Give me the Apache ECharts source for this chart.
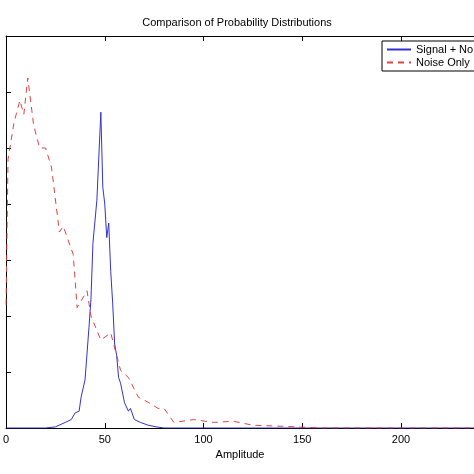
<!DOCTYPE html><html><head><meta charset="utf-8"><script src="https://cdn.jsdelivr.net/npm/echarts@6/dist/echarts.min.js"></script></head><body style="margin:0"><div id="c" style="width:474px;height:474px"></div><script>
const sigX=[0,20,25,30,33,35,37,38,40,42,43,44,45,46,47,48,49,50,51,52,53,54,55,56,57,58,60,62,63,65,68,72,76,80,250];
const sigY=[0,0,0.02,0.1,0.15,0.27,0.3,0.55,0.86,1.8,2.3,3.3,3.3,4.07,4.1,5.64,4.3,4.0,3.4,3.66,2.8,2.23,1.5,1.3,0.9,0.8,0.45,0.3,0.35,0.15,0.1,0.05,0.02,0,0];
const noiX=[0,1,4,7,9,11,14,17,20,23,27,29,34,36,41,43,48,53,58,62,67,72,77,80,85,95,105,115,125,140,160,250];
const noiY=[2.2,4.8,5.45,5.85,5.6,6.25,5.4,5.0,5.0,4.66,3.5,3.6,3.1,2.15,2.45,2.0,1.57,1.7,1.03,0.9,0.55,0.46,0.35,0.35,0.1,0.15,0.1,0.12,0.05,0.03,0,0];
const ch=echarts.init(document.getElementById('c'));
const f='Liberation Sans';
const tick={inside:true,length:5,lineStyle:{color:'#000'}};
ch.setOption({animation:false,
title:{text:'Comparison of Probability Distributions',left:'center',top:12,textStyle:{fontFamily:f,fontSize:11,fontWeight:'normal',color:'#000'}},
legend:{left:382,top:41,orient:'vertical',itemGap:2,itemWidth:24,itemHeight:8,padding:[3,4],borderColor:'#000',borderWidth:1,borderRadius:0,backgroundColor:'#fff',itemStyle:{opacity:0},textStyle:{fontFamily:f,fontSize:11,color:'#000'},data:['Signal + Noise','Noise Only']},
grid:{left:2,top:36,right:0,height:392},
xAxis:[{type:'value',min:0,max:237,interval:50,name:'Amplitude',nameLocation:'middle',nameGap:19,nameTextStyle:{fontFamily:f,fontSize:11,color:'#000'},axisLine:{lineStyle:{color:'#000'}},axisTick:tick,axisLabel:{fontFamily:f,fontSize:11,color:'#000',margin:6,showMaxLabel:false},splitLine:{show:false}},
{type:'value',position:'top',min:0,max:237,interval:50,axisLine:{lineStyle:{color:'#000'}},axisTick:tick,axisLabel:{show:false},splitLine:{show:false}}],
yAxis:{type:'value',min:0,max:7,interval:1,axisLine:{show:true,lineStyle:{color:'#000'}},axisTick:tick,axisLabel:{show:false},splitLine:{show:false}},
series:[
{name:'Signal + Noise',type:'line',symbol:'none',data:sigX.map((x,i)=>[x,sigY[i]]),lineStyle:{color:'#3333cc',width:1},itemStyle:{color:'#3333cc'}},
{name:'Noise Only',type:'line',symbol:'none',data:noiX.map((x,i)=>[x,noiY[i]]),lineStyle:{color:'#dd4444',width:1,type:[6,5]},itemStyle:{color:'#dd4444'}}
]});
</script></body></html>
